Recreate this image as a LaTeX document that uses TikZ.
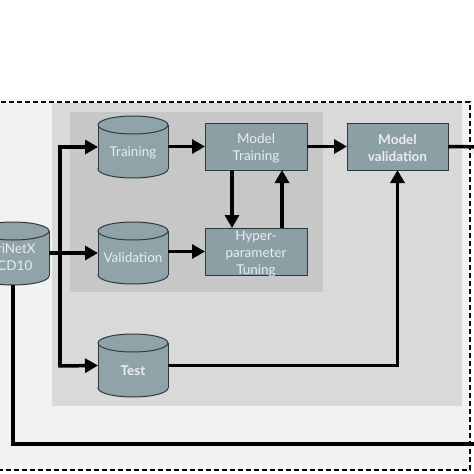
\documentclass[tikz,border=0pt]{standalone}
\usepackage{fontspec}
\setmainfont{Lato}
\usetikzlibrary{arrows.meta}
\definecolor{cylfill}{HTML}{8FA3A8}
\definecolor{boxfill}{HTML}{8C9FA4}
\definecolor{edgec}{HTML}{2F3A3E}
\definecolor{txtc}{HTML}{E9EFF1}
\definecolor{outerbg}{HTML}{F2F2F2}
\definecolor{midbg}{HTML}{D9D9D9}
\definecolor{innerbg}{HTML}{C7C7C7}
\tikzset{
  cylstyle/.style={fill=cylfill, draw=edgec, line width=1pt},
  anchorbox/.style={rectangle, inner sep=0pt, outer sep=0pt},
  lbl/.style={text=txtc, align=center, font=\fontsize{13.5}{17}\selectfont, inner sep=0pt},
  boldlbl/.style={lbl, font=\fontsize{13.5}{17}\selectfont\bfseries},
  procbox/.style={rectangle, fill=boxfill, draw=edgec, line width=1pt, minimum width=102pt, minimum height=47pt, inner sep=0pt, outer sep=0pt},
  flow/.style={line width=3.5pt, black, -{Triangle[length=13pt,width=14pt]}},
  plain/.style={line width=3.5pt, black},
}
\newcommand\mycyl[8]{% name, cx, top, bottom, w, text, textstyle, text y
  \filldraw[cylstyle] ({#2},{#4-9}) ellipse [x radius={#5/2}, y radius=9];
  \fill[cylfill] ({#2-#5/2},{#3+9}) rectangle ({#2+#5/2},{#4-9});
  \draw[edgec, line width=1pt] ({#2-#5/2},{#3+9}) -- ({#2-#5/2},{#4-9}) ({#2+#5/2},{#3+9}) -- ({#2+#5/2},{#4-9});
  \filldraw[cylstyle] ({#2},{#3+9}) ellipse [x radius={#5/2}, y radius=9];
  \node[anchorbox, minimum width=#5, minimum height={#4-#3}] (#1) at ({#2},{(#3+#4)/2}) {};
  \node[#7] (#1txt) at ({#2},{#8}) {#6};
}
\begin{document}
\begin{tikzpicture}[x=1pt,y=-1pt]
\useasboundingbox (0,0) rectangle (474,474);
\clip (0,0) rectangle (474,474);
\fill[white] (0,0) rectangle (474,474);
% background regions
\filldraw[fill=outerbg, draw=black, line width=1.5pt, dash pattern=on 5pt off 3pt] (-10,102) rectangle (470,470);
\fill[midbg] (52,103) rectangle (462,406);
\fill[innerbg] (70,112) rectangle (323,292);
% cylinders
\mycyl{train}{133}{116}{178}{70}{Training}{lbl}{153}
\mycyl{valid}{133}{222}{284}{70}{Validation}{lbl}{258}
\mycyl{test}{133}{334}{397}{70}{Test}{boldlbl}{371}
\mycyl{src}{13}{222}{285}{72}{TriNetX\\ICD10}{lbl}{257}
% boxes
\node[procbox] (mt) at (256,146.5) {};
\node[lbl] (mttxt) at (256,148) {Model\\Training};
\node[procbox] (hp) at (256,251.5) {};
\node[lbl] (hptxt) at (256,254) {Hyper-\\parameter\\Tuning};
\node[procbox, minimum width=101pt] (mv) at (397.5,146.5) {};
\node[boldlbl] (mvtxt) at (397.5,148) {Model\\validation};
% helper coordinates
\coordinate (bustop) at (60,147);
\coordinate (busbot) at (60,366);
\coordinate (outr) at (487,147);
\coordinate (loopr) at (480,444);
% connectors
\draw[plain] (60,145.25) -- (busbot);
\draw[flow] (bustop) -- (train.west);
\draw[flow, line join=miter] (58.25,366) -- (test.west);
\draw[flow] (src.east |- valid.west) -- (valid.west);
\draw[flow] (train.east |- mt.west) -- (mt.west);
\draw[flow] (valid.east |- hp.west) -- (hp.west);
\draw[flow] ([xshift=-24pt]mt.south) -- ([xshift=-24pt]hp.north);
\draw[flow] ([xshift=26pt]hp.north) -- ([xshift=26pt]mt.south);
\draw[flow] (mt.east) -- (mv.west);
\draw[flow] (mv.east) -- (outr);
\draw[flow, line join=miter] (test.east) -| (mv.south);
\draw[plain, line join=miter] (src.south) |- (loopr);
\end{tikzpicture}
\end{document}
